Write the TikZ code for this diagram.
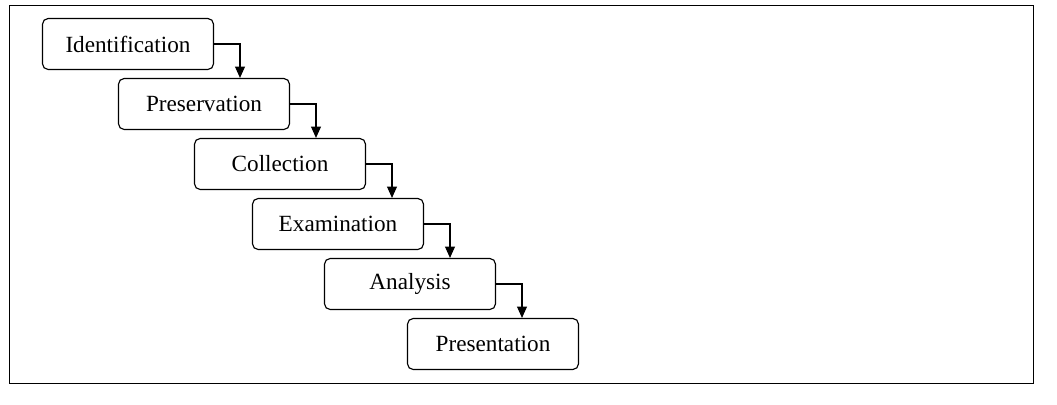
\documentclass[tikz,border=0pt]{standalone}
\usepackage{fontspec}
\setmainfont{Liberation Serif}
\usetikzlibrary{arrows.meta}
\newlength{\unitpx}
\setlength{\unitpx}{0.025cm}
\tikzset{
  phase/.style={draw, rounded corners=4pt, thick, minimum width=171\unitpx, minimum height=51\unitpx,
    inner sep=0pt, font=\fontsize{16.5}{18}\selectfont},
  flow/.style={-{Triangle[length=8pt,width=7pt]}, thick}
}
\begin{document}
\begin{tikzpicture}[x=0.025cm, y=-0.025cm]
\useasboundingbox (0,0) rectangle (1057,405);
\draw (9,5) rectangle (1033,383);

\node[phase] (ident) at (128,44) {Identification};
\node[phase] (pres)  at (204,104) {Preservation};
\node[phase] (coll)  at (280,164) {Collection};
\node[phase] (exam)  at (338,224) {Examination};
\node[phase] (anal)  at (410,284) {Analysis};
\node[phase] (prsn)  at (493,344) {Presentation};

% drop points on the next box
\coordinate (d1) at (240,0);
\coordinate (d2) at (316,0);
\coordinate (d3) at (392,0);
\coordinate (d4) at (450,0);
\coordinate (d5) at (522,0);

\draw[flow] (ident.east) -| (pres.north -| d1);
\draw[flow] (pres.east) -| (coll.north -| d2);
\draw[flow] (coll.east) -| (exam.north -| d3);
\draw[flow] (exam.east) -| (anal.north -| d4);
\draw[flow] (anal.east) -| (prsn.north -| d5);
\end{tikzpicture}
\end{document}
